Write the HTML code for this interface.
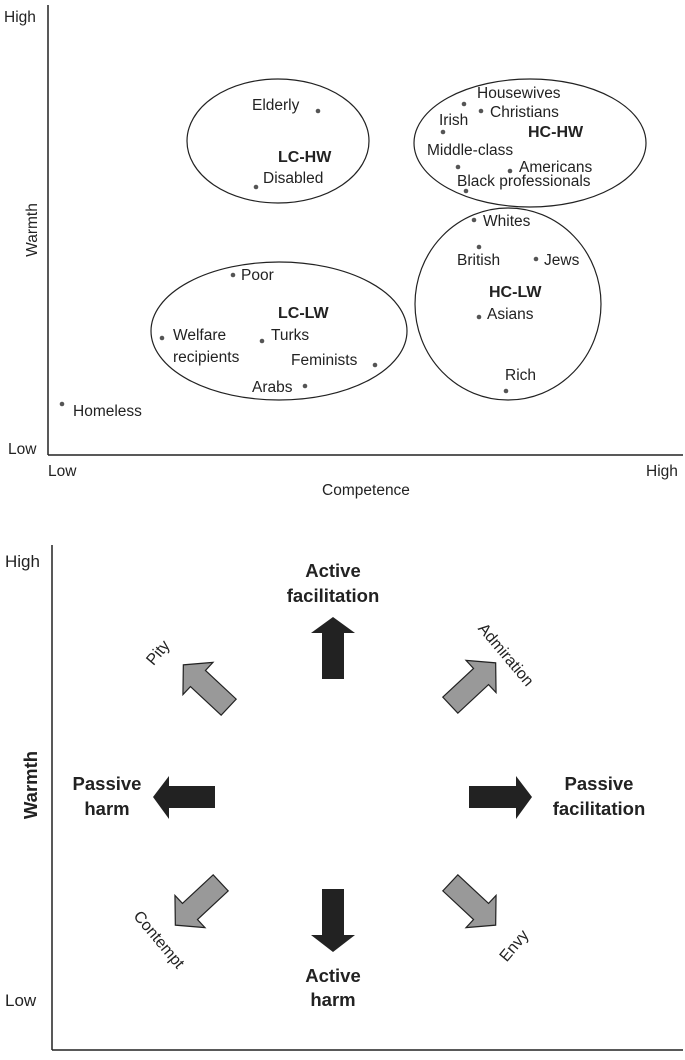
<!DOCTYPE html>
<html><head><meta charset="utf-8"><style>
html,body{margin:0;padding:0;background:#fff}
svg{display:block}
text{font-family:"Liberation Sans",Arial,sans-serif;fill:#222}
.t{font-size:15.5px}
.b{font-size:16px;font-weight:bold}
.bb{font-size:18.5px;font-weight:bold}
</style></head><body>
<svg width="685" height="1060" viewBox="0 0 685 1060" xmlns="http://www.w3.org/2000/svg">
<defs>
<path id="ga" d="M-31,-11 L11,-11 L11,-22 L31,0 L11,22 L11,11 L-31,11 Z" fill="#999" stroke="#222" stroke-width="1.2"/>
</defs>
<!-- top chart -->
<g stroke="#222" stroke-width="1.5" fill="none">
<line x1="48" y1="5" x2="48" y2="455"/>
<line x1="48" y1="455" x2="683" y2="455"/>
</g>
<g stroke="#222" stroke-width="1.2" fill="none">
<ellipse cx="278" cy="141" rx="91" ry="62"/>
<ellipse cx="530" cy="143" rx="116" ry="64"/>
<ellipse cx="508" cy="304" rx="93" ry="96"/>
<ellipse cx="279" cy="331" rx="128" ry="69"/>
</g>
<text class="t" x="4" y="22">High</text>
<text class="t" x="8" y="454">Low</text>
<text class="t" x="48" y="476">Low</text>
<text class="t" x="646" y="476">High</text>
<text class="t" x="366" y="495" text-anchor="middle">Competence</text>
<text class="t" transform="translate(37,230) rotate(-90)" text-anchor="middle">Warmth</text>
<g fill="#555">
<circle cx="318" cy="111" r="2.3"/><circle cx="256" cy="187" r="2.3"/>
<circle cx="464" cy="104" r="2.3"/><circle cx="481" cy="111" r="2.3"/>
<circle cx="443" cy="132" r="2.3"/><circle cx="458" cy="167" r="2.3"/>
<circle cx="510" cy="171" r="2.3"/><circle cx="466" cy="191" r="2.3"/>
<circle cx="474" cy="220" r="2.3"/><circle cx="479" cy="247" r="2.3"/>
<circle cx="536" cy="259" r="2.3"/><circle cx="479" cy="317" r="2.3"/>
<circle cx="506" cy="391" r="2.3"/><circle cx="233" cy="275" r="2.3"/>
<circle cx="162" cy="338" r="2.3"/><circle cx="262" cy="341" r="2.3"/>
<circle cx="375" cy="365" r="2.3"/><circle cx="305" cy="386" r="2.3"/>
<circle cx="62" cy="404" r="2.3"/>
</g>
<text class="t" x="252" y="110">Elderly</text>
<text class="b" x="278" y="162">LC-HW</text>
<text class="t" x="263" y="183">Disabled</text>
<text class="t" x="477" y="98">Housewives</text>
<text class="t" x="490" y="117">Christians</text>
<text class="t" x="439" y="125">Irish</text>
<text class="b" x="528" y="137">HC-HW</text>
<text class="t" x="427" y="155">Middle-class</text>
<text class="t" x="519" y="172">Americans</text>
<text class="t" x="457" y="186">Black professionals</text>
<text class="t" x="483" y="226">Whites</text>
<text class="t" x="457" y="265">British</text>
<text class="t" x="544" y="265">Jews</text>
<text class="b" x="489" y="297">HC-LW</text>
<text class="t" x="487" y="319">Asians</text>
<text class="t" x="505" y="380">Rich</text>
<text class="t" x="241" y="280">Poor</text>
<text class="b" x="278" y="318">LC-LW</text>
<text class="t" x="173" y="340">Welfare</text>
<text class="t" x="173" y="362">recipients</text>
<text class="t" x="271" y="340">Turks</text>
<text class="t" x="291" y="365">Feminists</text>
<text class="t" x="252" y="392">Arabs</text>
<text class="t" x="73" y="416">Homeless</text>

<!-- bottom chart -->
<g stroke="#222" stroke-width="1.5" fill="none">
<line x1="52" y1="545" x2="52" y2="1050"/>
<line x1="52" y1="1050" x2="683" y2="1050"/>
</g>
<text class="b" style="font-weight:normal;font-size:17px" x="5" y="567">High</text>
<text class="b" style="font-weight:normal;font-size:17px" x="5" y="1006">Low</text>
<text class="b" style="font-weight:normal;font-size:17px" x="60" y="1075">Low</text>
<text class="b" style="font-weight:normal;font-size:17px" x="643" y="1075">High</text>
<text class="bb" x="338" y="1079" text-anchor="middle">Competence</text>
<text class="bb" transform="translate(37,785) rotate(-90)" text-anchor="middle">Warmth</text>

<g fill="#222">
<path d="M333,617 L355,633 L344,633 L344,679 L322,679 L322,633 L311,633 Z"/>
<path d="M333,952 L355,935 L344,935 L344,889 L322,889 L322,935 L311,935 Z"/>
<path d="M153,797 L169,776 L169,786 L215,786 L215,808 L169,808 L169,819 Z"/>
<path d="M532,797 L516,776 L516,786 L469,786 L469,808 L516,808 L516,819 Z"/>
</g>
<use href="#ga" transform="translate(206,686) rotate(-137)"/>
<use href="#ga" transform="translate(473,684) rotate(-43)"/>
<use href="#ga" transform="translate(198,904) rotate(137)"/>
<use href="#ga" transform="translate(473,904) rotate(43)"/>

<text class="bb" x="333" y="577" text-anchor="middle">Active</text>
<text class="bb" x="333" y="602" text-anchor="middle">facilitation</text>
<text class="bb" x="107" y="790" text-anchor="middle">Passive</text>
<text class="bb" x="107" y="815" text-anchor="middle">harm</text>
<text class="bb" x="599" y="790" text-anchor="middle">Passive</text>
<text class="bb" x="599" y="815" text-anchor="middle">facilitation</text>
<text class="bb" x="333" y="982" text-anchor="middle">Active</text>
<text class="bb" x="333" y="1006" text-anchor="middle">harm</text>
<text class="t" style="font-size:16px" transform="translate(162,656) rotate(-50)" text-anchor="middle">Pity</text>
<text class="t" style="font-size:16px" transform="translate(502,658) rotate(50)" text-anchor="middle">Admiration</text>
<text class="t" style="font-size:16px" transform="translate(155,943) rotate(50)" text-anchor="middle">Contempt</text>
<text class="t" style="font-size:16px" transform="translate(518,949) rotate(-50)" text-anchor="middle">Envy</text>
</svg>
</body></html>
